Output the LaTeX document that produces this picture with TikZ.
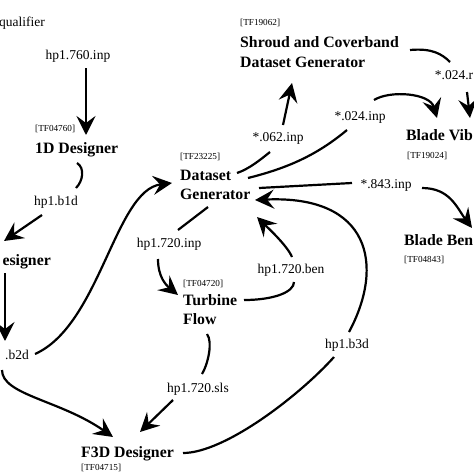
\documentclass[tikz,border=0pt]{standalone}
\usepackage{fontspec}
\setmainfont{Liberation Serif}
\usetikzlibrary{positioning, arrows.meta}
\tikzset{tool/.style={ % Tool names
font=\bfseries\fontsize{15.8}{19.5}\selectfont,
align=left, inner sep=0pt},
file/.style={ % File names on the flows
font=\fontsize{13.5}{16}\selectfont, inner sep=0pt},
tag/.style={font=\fontsize{9.2}{11}\selectfont, inner sep=0pt},
link/.style={draw, line width=2.2pt}, % Piece of a flow before its file name
flow/.style={ % Piece of a flow that ends at a tool
link, -{Stealth[length=19pt, width=19pt, inset=7pt]}}}

\begin{document}
\begin{tikzpicture}[x=1pt, y=-1pt]
    \useasboundingbox (0,0) rectangle (474,474);

    \node[file] (qual) at (22,23) {qualifier};

    % base of a two-line name is its last line
    \node[tool, anchor=base west] (oned) at (35,153) {1D Designer};
    \node[tool, anchor=base east] (des2) at (51,265) {esigner};
    \node[tool, anchor=base west] (dsg) at (180,199.5) {Dataset\\Generator};
    \node[tool, anchor=base west] (tf) at (183,324.5) {Turbine\\Flow};
    \node[tool, anchor=base west] (f3d) at (81,457) {F3D Designer};
    \node[tool, anchor=base west] (shroud) at (240,67) {Shroud and Coverband\\Dataset Generator};
    \node[tool, anchor=base west] (bvib) at (406,140) {Blade Vib};
    \node[tool, anchor=base west] (bben) at (404,245) {Blade Ben};

    \node[tag, above right=9pt and 0pt of oned.north west] (tag1d) {[TF04760]};
    \node[tag, above right=9pt and 0pt of dsg.north west] (tagdsg) {[TF23225]};
    \node[tag, above right=6pt and 0pt of tf.north west] (tagtf) {[TF04720]};
    \node[tag, above right=9pt and 0pt of shroud.north west] (tagshroud) {[TF19062]};
    \node[tag, below right=3.5pt and 0pt of f3d.south west] (tagf3d) {[TF04715]};
    \node[tag, below right=11pt and 1pt of bvib.south west] (tagbvib) {[TF19024]};
    \node[tag, below right=11pt and 0pt of bben.south west] (tagbben) {[TF04843]};

    \node[file] (in760) at (78,56) {hp1.760.inp};
    \node[file] (b1d) at (56,202) {hp1.b1d};
    \node[file] (b2d) at (17,355) {.b2d};
    \node[file] (b3d) at (347,345) {hp1.b3d};
    \node[file] (in720) at (169,244) {hp1.720.inp};
    \node[file] (ben720) at (291,270) {hp1.720.ben};
    \node[file] (sls720) at (198,389) {hp1.720.sls};
    \node[file] (s062) at (278,138) {*.062.inp};
    \node[file] (s024) at (360,117) {*.024.inp};
    \node[file] (s024r) at (454,75) {*.024.r};
    \node[file] (s843) at (386,185) {*.843.inp};

    % left column
    \draw[flow] ([shift={(8,12)}]in760.center) -- ([shift={(51,-18)}]oned.base west);
    \draw[link] ([shift={(42,10)}]oned.base west) .. controls +(8,5) and +(7,-7) .. ([shift={(20,-14)}]b1d.center);
    \draw[flow] ([shift={(-14,13)}]b1d.center) -- ([shift={(-47,-24)}]des2.base east);
    \draw[flow] ([shift={(-46,8)}]des2.base east) -- ([shift={(-12,-14)}]b2d.center);
    \draw[flow] ([shift={(18,-1)}]b2d.center) .. controls +(65,-29) and +(-57,7) .. ([shift={(-8,-16.5)}]dsg.base west);
    \draw[flow] ([shift={(-15,15)}]b2d.center) .. controls +(0,25) and +(-53,-37) .. ([shift={(32,-20)}]f3d.base west);

    % F3D back to the generator
    \draw[link] ([shift={(102,-4)}]f3d.base west) .. controls +(42,0) and +(-34,38) .. ([shift={(-13,12)}]b3d.center);
    \draw[flow] ([shift={(2,-13)}]b3d.center) .. controls +(36,-67) and +(115,-5) .. ([shift={(75,0.5)}]dsg.base west);

    % turbine flow loop
    \draw[link] ([shift={(28,7.5)}]dsg.base west) -- ([shift={(9,-14)}]in720.center);
    \draw[flow] ([shift={(-11,15)}]in720.center) .. controls +(0,18) and +(-12,-10) .. ([shift={(-5,-29.5)}]tf.base west);
    \draw[link] ([shift={(24,9.5)}]tf.base west) .. controls +(6,8) and +(6,-10) .. ([shift={(4,-15)}]sls720.center);
    \draw[flow] ([shift={(-25,11)}]sls720.center) -- ([shift={(59,-25)}]f3d.base west);
    \draw[link] ([shift={(61,-24.5)}]tf.base west) .. controls +(30,0) and +(0,10) .. ([shift={(3,12)}]ben720.center);
    \draw[flow] ([shift={(1,-13)}]ben720.center) .. controls +(-5,-12) and +(8,8) .. ([shift={(77,17.5)}]dsg.base west);

    % right side
    \draw[link] ([shift={(57,-26.5)}]dsg.base west) .. controls +(12,-4) and +(-10,8) .. ([shift={(-8,14)}]s062.center);
    \draw[flow] ([shift={(5,-13)}]s062.center) -- ([shift={(52,16)}]shroud.base west);
    \draw[link] ([shift={(68,-21.5)}]dsg.base west) .. controls +(40,-10) and +(-30,25) .. ([shift={(-13,13)}]s024.center);
    \draw[flow] ([shift={(14,-17)}]s024.center) .. controls +(16,-10) and +(-7,-25) .. ([shift={(31,-22)}]bvib.base west);
    \draw[link] ([shift={(170,-17)}]shroud.base west) .. controls +(22,-2) and +(-8,-8) .. ([shift={(-4,-13)}]s024r.center);
    \draw[flow] ([shift={(13,17)}]s024r.center) -- ([shift={(64,-22)}]bvib.base west);
    \draw[link] ([shift={(79,-11.5)}]dsg.base west) -- ([shift={(-34,-2)}]s843.center);
    \draw[flow] ([shift={(36,3)}]s843.center) .. controls +(28,0) and +(-15,-20) .. ([shift={(68,-17)}]bben.base west);

\end{tikzpicture}
\end{document}
